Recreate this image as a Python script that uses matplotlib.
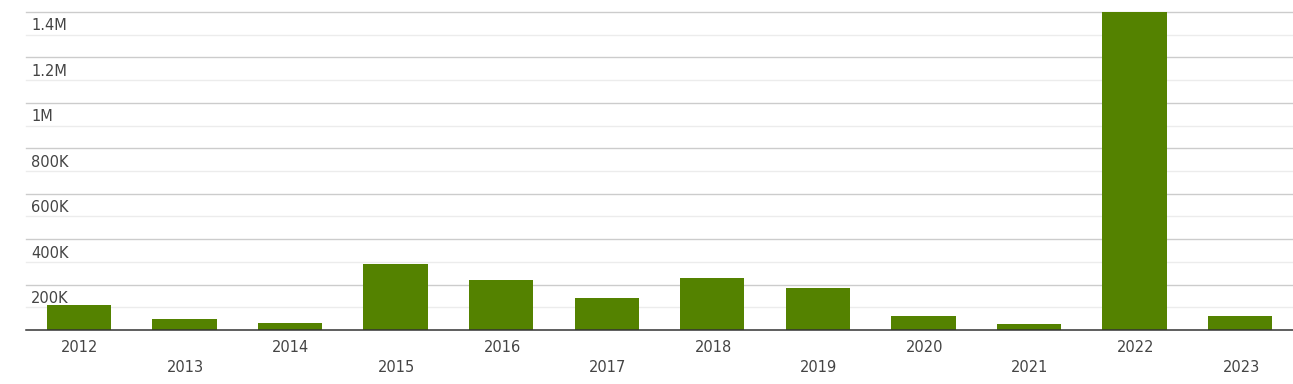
import numpy as np
import matplotlib.pyplot as plt

years = ['2012', '2013', '2014', '2015', '2016', '2017',
         '2018', '2019', '2020', '2021', '2022', '2023']
values = [110000, 48000, 31000, 291000, 220000, 141000,
          229000, 185000, 62000, 26000, 1398000, 62000]
ytick_vals = [200000, 400000, 600000, 800000, 1000000, 1200000, 1400000]
ytick_labels = ['200K', '400K', '600K', '800K', '1M', '1.2M', '1.4M']

fig = plt.figure(figsize=(12.93, 3.84), dpi=100)
ax = fig.add_axes([26 / 1293, 1 - 330 / 384, 1 - 26 / 1293, 318 / 384])

x = np.arange(len(years))
ax.bar(x, values, width=0.61, color='#548200', zorder=3)

ax.set_xlim(-0.5, len(years) - 0.5)
ax.set_ylim(0, 1400000)

# grid: major every 200K, minor every 100K
for v in np.arange(100000, 1400001, 100000):
    major = v % 200000 == 0
    ax.axhline(v, color='#cccccc' if major else '#ececec', lw=1, zorder=1,
               clip_on=False)
ax.axhline(0, color='#333333', lw=1.1, zorder=4, clip_on=False)

for v, lab in zip(ytick_vals, ytick_labels):
    ax.annotate(lab, xy=(0, v), xycoords=('axes fraction', 'data'),
                xytext=(5, -14), textcoords='offset pixels',
                va='center', ha='left', fontsize=10.5, color='#444444')

# staggered year labels
for i, yr in enumerate(years):
    off = -18 if i % 2 == 0 else -38
    ax.annotate(yr, xy=(i, 0), xycoords='data', xytext=(1, off),
                textcoords='offset pixels', va='center', ha='center',
                fontsize=10.5, color='#444444', annotation_clip=False)

ax.set_xticks([])
ax.set_yticks([])
for s in ax.spines.values():
    s.set_visible(False)

fig.savefig('out.png', dpi=100)
